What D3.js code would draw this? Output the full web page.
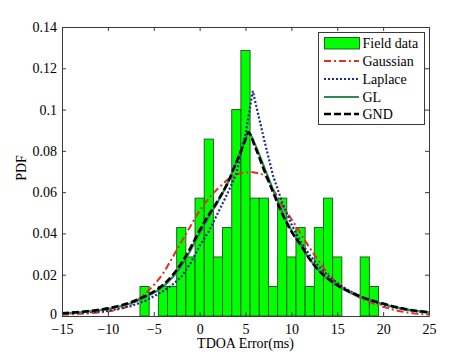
<!DOCTYPE html>
<html>
<head>
<meta charset="utf-8">
<script src="https://cdn.jsdelivr.net/npm/d3@7"></script>
<style>
  html, body { margin: 0; padding: 0; background: #fff; }
  svg { display: block; }
  text { font-family: "Liberation Serif", "Times New Roman", serif; fill: #000; }
</style>
</head>
<body>
<svg id="chart" width="474" height="355"></svg>
<script>
// ---- Data ----
const binCenters = [-6, -4, -3, -2, -1, 0, 1, 2, 3, 4, 5, 6, 7, 8, 9, 10, 11, 12, 13, 14, 15, 18, 19];
const fieldPdf   = [0.0143, 0.0143, 0.0143, 0.0429, 0.0286, 0.0571, 0.0857, 0.0286, 0.0429, 0.1, 0.1286,
                    0.0571, 0.0571, 0.0143, 0.0571, 0.0286, 0.0429, 0.0143, 0.0429, 0.0571, 0.0286, 0.0286, 0.0143];
const binWidth = 1;

const gaussX = [-15, -12.5, -10, -7.5, -6, -5, -4, -3, -2, -1, 0, 1, 2, 3, 4, 5, 5.6, 6, 7, 8, 9, 10, 11, 12, 13, 14, 15, 16, 17.5, 20, 22.5, 25];
const gaussY = [0.0006, 0.0012, 0.0022, 0.0055, 0.0106, 0.015, 0.0205, 0.028, 0.0358, 0.0435, 0.051, 0.057, 0.0618, 0.0658, 0.0685, 0.0695, 0.0697, 0.0695, 0.0682, 0.0615, 0.0535, 0.047, 0.04, 0.033, 0.0265, 0.0205, 0.0158, 0.0125, 0.0088, 0.0044, 0.0018, 0.0007];

const laplaceX = [-15, -12.5, -10, -7.5, -6, -5, -4, -3, -2, -1, 0, 1, 2, 3, 4, 5, 5.8, 6, 7, 8, 9, 10, 11, 12, 13, 14, 15, 16, 17.5, 20, 22.5, 25];
const laplaceY = [0.0011, 0.0017, 0.0025, 0.0048, 0.0072, 0.0095, 0.012, 0.015, 0.019, 0.0255, 0.034, 0.041, 0.05, 0.059, 0.069, 0.088, 0.109, 0.105, 0.086, 0.068, 0.055, 0.0445, 0.036, 0.0295, 0.024, 0.0195, 0.016, 0.013, 0.0095, 0.0052, 0.003, 0.0017];

const glX = [-15, -12.5, -10, -7.5, -6, -5, -4, -3, -2, -1, 0, 1, 2, 3, 4, 5, 5.35, 6, 7, 8, 9, 10, 11, 12, 13, 14, 15, 16, 17.5, 20, 22.5, 25];
const glY = [0.0012, 0.002, 0.0034, 0.0062, 0.009, 0.0112, 0.0142, 0.0185, 0.0242, 0.0318, 0.04, 0.048, 0.0555, 0.0638, 0.0745, 0.0858, 0.0888, 0.0835, 0.0725, 0.0612, 0.0505, 0.0415, 0.0345, 0.0275, 0.022, 0.0178, 0.0147, 0.0122, 0.0092, 0.0058, 0.0032, 0.0017];

const gndX = [-15, -12.5, -10, -7.5, -6, -5, -4, -3, -2, -1, 0, 1, 2, 3, 4, 5, 5.3, 6, 7, 8, 9, 10, 11, 12, 13, 14, 15, 16, 17.5, 20, 22.5, 25];
const gndY = [0.0013, 0.0022, 0.0037, 0.0066, 0.0095, 0.0118, 0.015, 0.0195, 0.0255, 0.033, 0.0415, 0.049, 0.056, 0.064, 0.0745, 0.0855, 0.089, 0.0825, 0.071, 0.06, 0.0495, 0.041, 0.0345, 0.0275, 0.022, 0.018, 0.015, 0.0125, 0.0095, 0.006, 0.0033, 0.0018];

const xTicks = [-15, -10, -5, 0, 5, 10, 15, 20, 25];
const yTicks = [0, 0.02, 0.04, 0.06, 0.08, 0.1, 0.12, 0.14];
const yTickLabels = ["0", "0.02", "0.04", "0.06", "0.08", "0.1", "0.12", "0.14"];
const legendLabels = ["Field data", "Gaussian", "Laplace", "GL", "GND"];

// ---- Layout ----
const svg = d3.select("#chart");
const L = 62, R = 429, T = 27, B = 316;
const x = d3.scaleLinear().domain([-15, 25]).range([L, R]);
const y = d3.scaleLinear().domain([0, 0.14]).range([B, T]);

const axisColor = "#3a3a3a";

// Bars
svg.append("g").selectAll("rect")
  .data(binCenters.map((c, i) => ({c, v: fieldPdf[i]})))
  .join("rect")
  .attr("x", d => x(d.c - binWidth / 2))
  .attr("width", d => x(d.c + binWidth / 2) - x(d.c - binWidth / 2))
  .attr("y", d => y(d.v))
  .attr("height", d => y(0) - y(d.v))
  .attr("fill", "#00ff00")
  .attr("stroke", "#1f4f1f")
  .attr("stroke-width", 0.9);

// Curves
const series = [
  {xs: gaussX, ys: gaussY, color: "#e0301e", dash: "7,3,2,3", w: 2, curve: d3.curveMonotoneX},
  {xs: laplaceX, ys: laplaceY, color: "#1c2a8c", dash: "2,2", w: 2.2, curve: d3.curveLinear},
  {xs: glX, ys: glY, color: "#2e8b57", dash: null, w: 2.2, curve: d3.curveMonotoneX},
  {xs: gndX, ys: gndY, color: "#000000", dash: "7,3", w: 2.6, curve: d3.curveMonotoneX}
];
const gCurves = svg.append("g");
series.forEach(s => {
  const line = d3.line().x(d => x(d[0])).y(d => y(d[1])).curve(s.curve);
  gCurves.append("path")
    .datum(s.xs.map((v, i) => [v, s.ys[i]]))
    .attr("d", line)
    .attr("fill", "none")
    .attr("stroke", s.color)
    .attr("stroke-width", s.w)
    .attr("stroke-dasharray", s.dash);
});

// Axes (MATLAB style, ticks inward)
const fontSize = 14;
const xAxis = svg.append("g").attr("transform", `translate(0,${B})`)
  .call(d3.axisBottom(x).tickValues(xTicks).tickSizeInner(-4).tickSizeOuter(0).tickPadding(8));
const xTop = svg.append("g").attr("transform", `translate(0,${T})`)
  .call(d3.axisTop(x).tickValues(xTicks).tickSizeInner(-4).tickSizeOuter(0).tickFormat(""));
const yAxis = svg.append("g").attr("transform", `translate(${L},0)`)
  .call(d3.axisLeft(y).tickValues(yTicks).tickSizeInner(-4).tickSizeOuter(0).tickPadding(5)
    .tickFormat((d, i) => yTickLabels[i]));
const yRight = svg.append("g").attr("transform", `translate(${R},0)`)
  .call(d3.axisRight(y).tickValues(yTicks).tickSizeInner(-4).tickSizeOuter(0).tickFormat(""));

[xAxis, xTop, yAxis, yRight].forEach(g => {
  g.select(".domain").attr("stroke", axisColor);
  g.selectAll(".tick line").attr("stroke", axisColor);
  g.selectAll("text").attr("font-size", fontSize)
    .attr("font-family", "Liberation Serif, Times New Roman, serif").attr("fill", "#000");
});
// nudge the "0" y label up a little so it does not collide with "-15"
yAxis.selectAll(".tick text").filter((d) => d === 0).attr("dy", "0.2em");

// Axis titles
svg.append("text").attr("x", (L + R) / 2).attr("y", 348)
  .attr("text-anchor", "middle").attr("font-size", fontSize).text("TDOA Error(ms)");
svg.append("text").attr("transform", "translate(26,168) rotate(-90)")
  .attr("text-anchor", "middle").attr("font-size", fontSize).text("PDF");

// Legend
const lg = svg.append("g");
lg.append("rect").attr("x", 318.5).attr("y", 32.5).attr("width", 106).attr("height", 92)
  .attr("fill", "#fff").attr("stroke", axisColor).attr("stroke-width", 1);
const rowY = [43, 61, 79, 97, 114];
lg.append("rect").attr("x", 324.5).attr("y", 37.5).attr("width", 35).attr("height", 11.5)
  .attr("fill", "#00ff00").attr("stroke", "#1f4f1f").attr("stroke-width", 0.9);
series.forEach((s, i) => {
  lg.append("line").attr("x1", 324).attr("x2", 359).attr("y1", rowY[i + 1]).attr("y2", rowY[i + 1])
    .attr("stroke", s.color).attr("stroke-width", s.w).attr("stroke-dasharray", s.dash);
});
legendLabels.forEach((t, i) => {
  lg.append("text").attr("x", 362.5).attr("y", rowY[i]).attr("dy", "0.35em")
    .attr("font-size", fontSize).text(t);
});
</script>
</body>
</html>
